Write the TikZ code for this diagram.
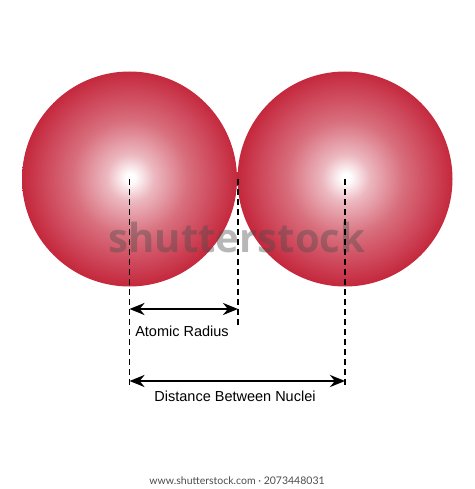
\documentclass[tikz,border=0pt]{standalone}
\usepackage{fontspec}
\setmainfont{Liberation Sans}
\newfontfamily\markfont{Open Sans}
\newfontfamily\footfont{Lato}
\usetikzlibrary{arrows.meta}

\definecolor{atomred}{RGB}{196,40,60}
\definecolor{atomdeep}{RGB}{204,64,84}
\definecolor{atommid}{RGB}{216,110,124}
\definecolor{atomlight}{RGB}{236,184,192}
\pgfdeclareradialshading{atomball}{\pgfpoint{0.2bp}{0.3bp}}{%
  color(0bp)=(white); color(1bp)=(white); color(5.5bp)=(atomlight);
  color(13.5bp)=(atommid); color(21bp)=(atomdeep); color(25bp)=(atomred);
  color(50bp)=(atomred)}

\tikzset{
  guide/.style={black, line width=1.1pt, dash pattern=on 6pt off 4pt},
  measure/.style={black, line width=2.8pt,
    {Stealth[length=15pt,width=12pt]}-{Stealth[length=15pt,width=12pt]}},
  lbl/.style={font=\fontsize{14.5}{16}\selectfont, text=black}
}

\begin{document}
\begin{tikzpicture}[x=1pt,y=-1pt]
    \useasboundingbox (0,0) rectangle (474,489);

    % Two atoms
    \coordinate (lc) at (129.5,179);
    \coordinate (rc) at (345,179);
    \coordinate (mid) at (238,179);
    \shade[shading=atomball] (lc) circle (107.5pt);
    \shade[shading=atomball] (rc) circle (107.5pt);

    % Watermark
    \node[text=black!70, opacity=0.4, font=\markfont\bfseries\fontsize{40}{40}\selectfont]
        (wm) at (237,237) {shutterstock};

    % Guide lines
    \coordinate (lb) at (129.5,386);
    \coordinate (mb) at (238,326);
    \coordinate (rb) at (345,386);
    \draw[guide] (lc) -- (lb);
    \draw[guide] (mid) -- (mb);
    \draw[guide] (rc) -- (rb);

    % Atomic radius
    \coordinate (ra) at (129.5,309);
    \coordinate (rb2) at (238,309);
    \draw[measure] (ra) -- (rb2);
    \node[lbl] (radlbl) at (182,331) {Atomic Radius};

    % Distance between nuclei
    \coordinate (da) at (129.5,381);
    \coordinate (db) at (345,381);
    \draw[measure] (da) -- (db);
    \node[lbl] (distlbl) at (235,396) {Distance Between Nuclei};

    % Footer
    \node[font=\footfont\fontsize{10.5}{12}\selectfont, text=black!70]
        (foot) at (237,481) {www.shutterstock.com · 2073448031};
\end{tikzpicture}
\end{document}
